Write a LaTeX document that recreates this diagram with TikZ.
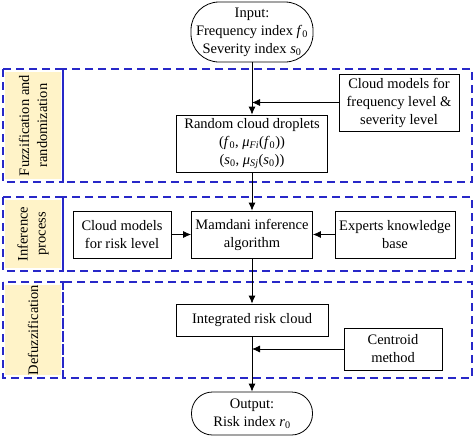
\documentclass[tikz,border=0pt]{standalone}
\usepackage{fontspec}
\setmainfont{Liberation Serif}
\usetikzlibrary{arrows.meta}
\definecolor{secblue}{RGB}{40,40,200}
\definecolor{labyellow}{RGB}{255,243,200}
\tikzset{
  box/.style={draw,thick,align=center,inner sep=1pt},
  sec/.style={draw=secblue,line width=1.3pt,dash pattern=on 8pt off 5pt},
  arr/.style={-{Latex[length=8pt,width=7pt]},thick},
}
\newcommand{\iv}[1]{\textit{#1}}
\begin{document}
\begin{tikzpicture}[x=1pt,y=-1pt,font=\fontsize{14.5}{18}\selectfont]
\useasboundingbox (0,0) rectangle (474,437);
% sections
\fill[labyellow] (5,72) rectangle (61,179);
\fill[labyellow] (5,200) rectangle (61,268);
\fill[labyellow] (5,285) rectangle (61,375);
\draw[sec] (3,69) rectangle (63,182);
\draw[sec] (63,69) rectangle (472,182);
\draw[sec] (3,197) rectangle (63,271);
\draw[sec] (63,197) rectangle (472,271);
\draw[sec] (3,282) rectangle (63,378);
\draw[sec] (63,282) rectangle (472,378);
\node[rotate=90,align=center] (lab1) at (33,125.5) {Fuzzification and\\randomization};
\node[rotate=90,align=center] (lab2) at (33,234) {Inference\\process};
\node[rotate=90,align=center] (lab3) at (33,330) {Defuzzification};
% nodes
\node[box,rounded corners=28pt,minimum width=122pt,minimum height=60pt] (input) at (252,32)
  {Input:\\Frequency index \iv{f}\textsubscript{0}\\Severity index \iv{s}\textsubscript{0}};
\node[box,minimum width=120pt,minimum height=57pt] (cloudfs) at (399,102.5)
  {Cloud models for\\frequency level \&\\severity level};
\node[box,minimum width=151pt,minimum height=57pt] (drops) at (252,143.5)
  {Random cloud droplets\\(\iv{f}\textsubscript{0}, \iv{μ}\textsubscript{\iv{Fi}}(\iv{f}\textsubscript{0}))\\(\iv{s}\textsubscript{0}, \iv{μ}\textsubscript{\iv{Sj}}(\iv{s}\textsubscript{0}))};
\node[box,minimum width=98pt,minimum height=47pt] (riskcm) at (122,234.5)
  {Cloud models\\for risk level};
\node[box,minimum width=121pt,minimum height=47pt] (mamdani) at (252,234.5)
  {Mamdani inference\\algorithm};
\node[box,minimum width=120pt,minimum height=47pt] (experts) at (395,234.5)
  {Experts knowledge\\base};
\node[box,minimum width=152pt,minimum height=32pt] (intcloud) at (252,320)
  {Integrated risk cloud};
\node[box,minimum width=98pt,minimum height=42pt] (centroid) at (393,349)
  {Centroid\\method};
\node[box,rounded corners=21pt,minimum width=121pt,minimum height=43pt] (output) at (252,413.5)
  {Output:\\Risk index \iv{r}\textsubscript{0}};
% connectors
\draw[arr] (input) -- (drops);
\draw[arr] (cloudfs.west) -- (cloudfs.west -| input.south);
\draw[arr] (drops) -- (mamdani);
\draw[arr] (riskcm) -- (mamdani);
\draw[arr] (experts) -- (mamdani);
\draw[arr] (mamdani) -- (intcloud);
\draw[arr] (intcloud) -- (output);
\draw[arr] (centroid.west) -- (centroid.west -| intcloud.south);
\end{tikzpicture}
\end{document}
